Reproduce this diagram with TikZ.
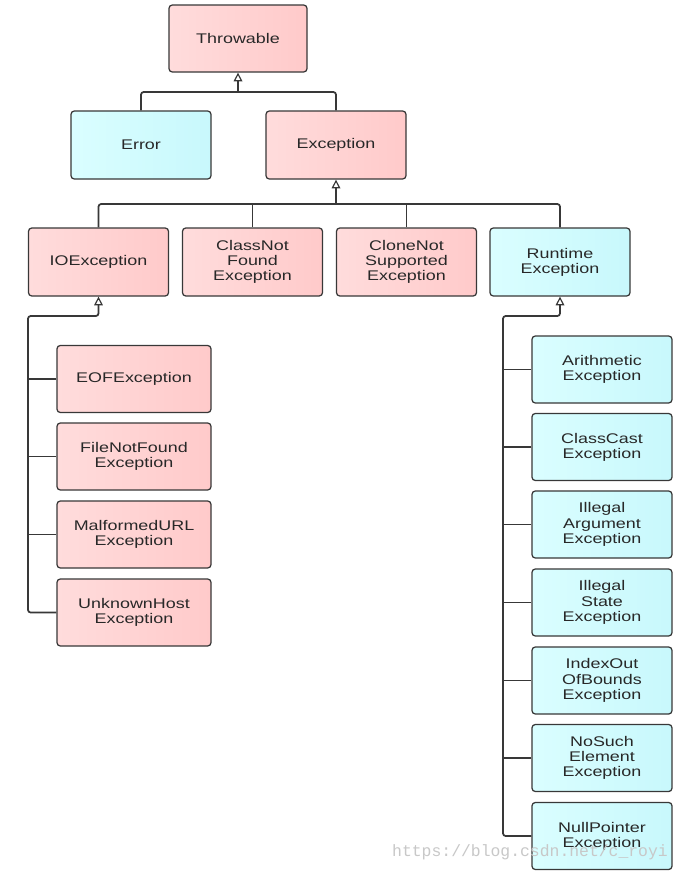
\documentclass[tikz,border=0pt]{standalone}
\usepackage{fontspec}
\setmainfont{Liberation Sans}[FakeStretch=1.28]
\setmonofont{Liberation Mono}
\usetikzlibrary{arrows.meta}
\definecolor{pinkL}{HTML}{FFDCDC}
\definecolor{pinkR}{HTML}{FFCACA}
\definecolor{cyanL}{HTML}{DAFEFF}
\definecolor{cyanR}{HTML}{C8F8FC}
\definecolor{boxline}{HTML}{383838}
\definecolor{txt}{HTML}{282828}
\definecolor{wm}{HTML}{C8C8C8}
\tikzset{
  box/.style={draw=boxline, line width=0.95pt, rounded corners=2.5pt, align=center,
    inner sep=0pt, font=\fontsize{10.5}{11.4}\selectfont, text=txt,
    minimum width=105pt, minimum height=51pt},
  pinkbox/.style={box, left color=pinkL, right color=pinkR},
  cyanbox/.style={box, left color=cyanL, right color=cyanR},
  leftkid/.style={pinkbox, minimum width=115.5pt, minimum height=50.25pt},
  rightkid/.style={cyanbox, minimum height=50.25pt},
  conn/.style={draw=boxline, line width=1.3pt, rounded corners=2pt},
  arr/.style={conn, -{Triangle[width=6.5pt,length=6.5pt,fill=white,line width=0.9pt]}}
}
\begin{document}
\begin{tikzpicture}[x=0.75pt,y=-0.75pt]
\useasboundingbox (0,0) rectangle (682,871);
\fill[white] (0,0) rectangle (682,871);
% top
\node[pinkbox, minimum width=103.5pt, minimum height=50.25pt] (thr) at (238,38.5) {Throwable};
\node[cyanbox] (err) at (141,145) {Error};
\node[pinkbox] (exc) at (336,145) {Exception};
% second row
\node[pinkbox] (ioe) at (98.5,262) {IOException};
\node[pinkbox] (cnf) at (252.5,262) {ClassNot\\Found\\Exception};
\node[pinkbox] (cns) at (406.5,262) {CloneNot\\Supported\\Exception};
\node[cyanbox] (rte) at (560,262) {Runtime\\Exception};
% left children
\node[leftkid] (eof) at (134,379) {EOFException};
\node[leftkid] (fnf) at (134,456.5) {FileNotFound\\Exception};
\node[leftkid] (mal) at (134,534.5) {MalformedURL\\Exception};
\node[leftkid] (unk) at (134,612.5) {UnknownHost\\Exception};
% right children
\node[rightkid] (ari) at (602,369.5) {Arithmetic\\Exception};
\node[rightkid] (ccs) at (602,447) {ClassCast\\Exception};
\node[rightkid] (iae) at (602,524.5) {Illegal\\Argument\\Exception};
\node[rightkid] (ise) at (602,602.5) {Illegal\\State\\Exception};
\node[rightkid] (iob) at (602,680.5) {IndexOut\\OfBounds\\Exception};
\node[rightkid] (nse) at (602,758) {NoSuch\\Element\\Exception};
\node[rightkid] (npe) at (602,836) {NullPointer\\Exception};
% junctions
\coordinate (tj) at (238,92);
\coordinate (ej) at (336,204);
\coordinate (lv) at (28,316);
\coordinate (rv) at (503,316);
% connectors top
\draw[conn] (err.north) |- (tj) -| (exc.north);
\draw[arr] (tj) -- (thr.south);
% connectors second row
\draw[conn] (ioe.north) |- (ej) -| (rte.north);
\draw[conn] (cnf.north) -- (cnf.north |- ej);
\draw[conn] (cns.north) -- (cns.north |- ej);
\draw[arr] (ej) -- (exc.south);
% left tree
\draw[arr] (unk.west) -| (lv) -| (ioe.south);
\draw[conn] (eof.west) -- (eof.west -| lv);
\draw[conn] (fnf.west) -- (fnf.west -| lv);
\draw[conn] (mal.west) -- (mal.west -| lv);
% right tree
\draw[arr] (npe.west) -| (rv) -| (rte.south);
\draw[conn] (ari.west) -- (ari.west -| rv);
\draw[conn] (ccs.west) -- (ccs.west -| rv);
\draw[conn] (iae.west) -- (iae.west -| rv);
\draw[conn] (ise.west) -- (ise.west -| rv);
\draw[conn] (iob.west) -- (iob.west -| rv);
\draw[conn] (nse.west) -- (nse.west -| rv);
% watermark
\node[font=\fontsize{12.3}{12.3}\ttfamily, text=wm, inner sep=0pt] (wmk) at (530,852) {https://blog.csdn.net/c\_royi};
\end{tikzpicture}
\end{document}
